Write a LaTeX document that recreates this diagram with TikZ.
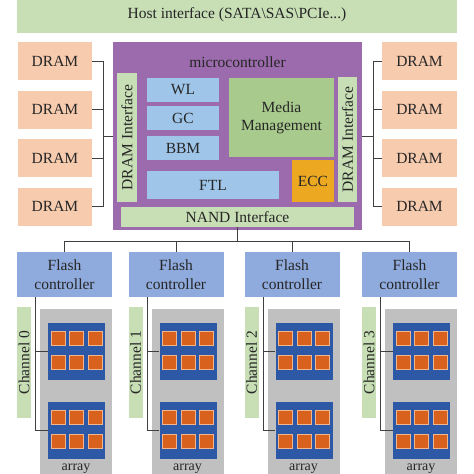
\documentclass[tikz,border=0pt]{standalone}
\usepackage{fontspec}
\setmainfont{Liberation Serif}

\definecolor{lgreen}{HTML}{C8DFB6}
\definecolor{mgreen}{HTML}{A8CA8C}
\definecolor{peach}{HTML}{F6CBAE}
\definecolor{mpurple}{HTML}{9C6BAD}
\definecolor{lblue}{HTML}{9FC5E8}
\definecolor{fblue}{HTML}{8FAADC}
\definecolor{eccor}{HTML}{EBA820}
\definecolor{chipblue}{HTML}{2D58A5}
\definecolor{cellor}{HTML}{D7611D}
\definecolor{celledge}{HTML}{F1B68E}
\definecolor{agray}{HTML}{C0C0C0}

\tikzset{
  blk/.style={inner sep=0pt, text=black!85, font=\fontsize{15.5}{18}\selectfont},
  dram/.style={blk, fill=peach, minimum width=74pt, minimum height=38pt},
  ifc/.style={blk, fill=lgreen},
  task/.style={blk, fill=lblue, minimum height=24pt},
  chip/.style={inner sep=0pt, fill=chipblue, minimum width=57pt, minimum height=57pt},
  cell/.style={inner sep=0pt, fill=cellor, draw=celledge, line width=0.8pt, minimum size=14pt},
  wire/.style={draw=black!75, line width=0.9pt}
}

\begin{document}
\begin{tikzpicture}[x=1pt,y=-1pt]
  \clip (0,0) rectangle (474,474);
  \fill[white] (0,0) rectangle (474,474);

  % host interface
  \node[ifc, minimum width=440pt, minimum height=36pt] (host) at (237,15) {Host interface (SATA\textbackslash SAS\textbackslash PCIe...)};

  % microcontroller
  \node[blk, fill=mpurple, minimum width=249pt, minimum height=188pt] (micro) at (237.5,136) {};
  \node[blk] (mtitle) at (237.5,62) {microcontroller};
  \node[ifc, rotate=90, minimum width=129pt, minimum height=20pt] (dil) at (127,137.5) {DRAM Interface};
  \node[ifc, rotate=90, minimum width=125pt, minimum height=19pt] (dir) at (347.5,139.5) {DRAM Interface};
  \node[task, minimum width=72pt] (wl) at (183,90) {WL};
  \node[task, minimum width=72pt] (gc) at (183,118) {GC};
  \node[task, minimum width=72pt] (bbm) at (183,148) {BBM};
  \node[task, minimum width=132pt, minimum height=28pt] (ftl) at (213,185) {FTL};
  \node[blk, fill=mgreen, minimum width=105pt, minimum height=79pt, align=center] (mm) at (281.5,117.5) {Media\\Management};
  \node[blk, fill=eccor, minimum width=42pt, minimum height=42pt] (ecc) at (313,181) {ECC};
  \node[ifc, minimum width=233pt, minimum height=20pt] (nand) at (237.5,217) {NAND Interface};

  % DRAM on both sides
  \coordinate (jl) at (103,136);
  \coordinate (jr) at (373,136);
  \foreach \k/\y in {1/61,2/109.5,3/158,4/206.5}{
    \node[dram] (dl\k) at (55,\y) {DRAM};
    \node[dram, minimum width=75pt] (dr\k) at (419.5,\y) {DRAM};
    \draw[wire] (dl\k.east) -- (dl\k.east -| jl);
    \draw[wire] (dr\k.west) -- (dr\k.west -| jr);
  }
  \draw[wire] (dl1.east -| jl) -- (dl4.east -| jl);
  \draw[wire] (dr1.west -| jr) -- (dr4.west -| jr);
  \draw[wire] (jl) -- (jl -| micro.west);
  \draw[wire] (jr) -- (jr -| micro.east);

  % channels
  \coordinate (bus) at (237.5,241);
  \foreach \i/\x in {0/64.5,1/176,2/292,3/409.5}{
    \node[blk, fill=agray, minimum width=72pt, minimum height=181pt] (ar\i) at (\x+11.5,399.5) {};
    \node[blk, font=\fontsize{14}{16}\selectfont, anchor=base] (lb\i) at (\x+11.5,470) {array};
    \node[blk, fill=fblue, minimum width=95pt, minimum height=45pt, align=center,
          font=\fontsize{15.5}{19}\selectfont] (fc\i) at (\x,274.5) {Flash\\controller};
    \node[ifc, rotate=90, minimum width=111pt, minimum height=14pt] (ch\i) at (\x-40.5,362.5) {Channel \i};
    \node[chip] (ca\i) at (\x+12,351.5) {};
    \node[chip] (cb\i) at (\x+12,430.5) {};
    \foreach \c in {a,b}
      \foreach \dx in {-18.5,0,18.5}
        \foreach \dy in {-13,11}
          \node[cell] at ([shift={(\dx,\dy)}]c\c\i) {};
    \coordinate (t\i) at ([xshift=-29pt]fc\i.south);
    \draw[wire] (t\i) |- (cb\i.west);
    \draw[wire] (ca\i.west) -- (ca\i.west -| t\i);
    \draw[wire] (fc\i.north) -- (fc\i.north |- bus);
  }
  \draw[wire] (nand.south) -- (bus);
  \draw[wire] (fc0.north |- bus) -- (fc3.north |- bus);
\end{tikzpicture}
\end{document}
